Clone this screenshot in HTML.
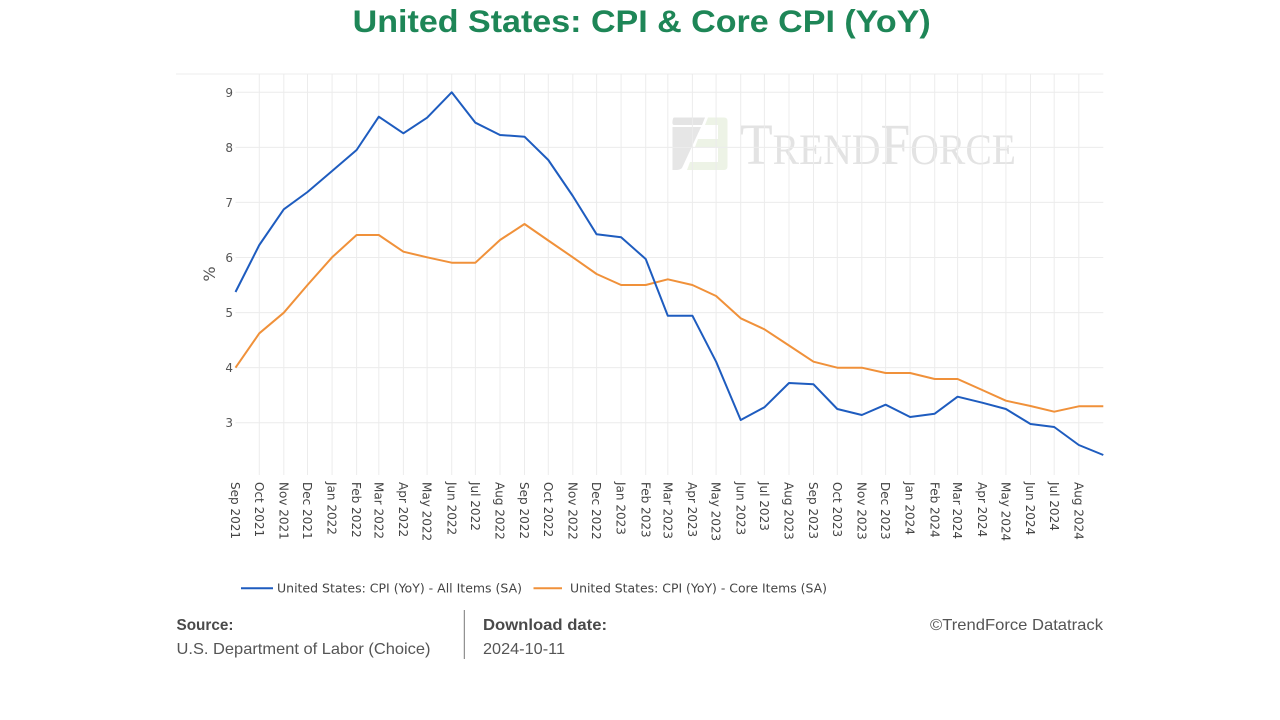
<!DOCTYPE html>
<html>
<head>
<meta charset="utf-8">
<style>
html,body{margin:0;padding:0;background:#fff;}
svg{display:block;}
</style>
</head>
<body>
<svg width="1280" height="720" viewBox="0 0 1280 720" xmlns="http://www.w3.org/2000/svg">
<rect x="0" y="0" width="1280" height="720" fill="#ffffff"/>

<!-- Title -->
<text x="352.7" y="32" font-family="'Liberation Sans', sans-serif" font-weight="bold" font-size="31.5" fill="#1e8657" textLength="578" lengthAdjust="spacingAndGlyphs">United States: CPI &amp; Core CPI (YoY)</text>

<!-- Watermark -->
<g opacity="1">
  <path d="M674 117.5 L705 117.5 L702 125 L674 125 Q672 125 672.5 121 Q673 117.5 674 117.5 Z" fill="#e4e4e4"/>
  <path d="M672.5 127 L701 127 L682 168 Q680 170 676 170 L672.5 170 Z" fill="#e6e6e6"/>
  <path d="M708 117.5 L724 117.5 Q727.5 117.5 727.5 121 L727.5 166 Q727.5 170 724 170 L687 170 L690 162 L718 162 L718 147 L695 147 L698 139 L718 139 L718 125 L705 125 Z" fill="#edf3e6"/>
  <text x="740" y="164" font-family="'Liberation Serif', serif" fill="#e3e3e3" textLength="276" lengthAdjust="spacingAndGlyphs"><tspan font-size="58">T</tspan><tspan font-size="43">REND</tspan><tspan font-size="58">F</tspan><tspan font-size="43">ORCE</tspan></text>
</g>

<!-- Grid -->
<g stroke="#ececec" stroke-width="1" fill="none">
  <line x1="176" y1="74" x2="1103.3" y2="74"/>
  <line x1="235.5" y1="92.3" x2="1103.3" y2="92.3"/>
  <line x1="235.5" y1="147.4" x2="1103.3" y2="147.4"/>
  <line x1="235.5" y1="202.4" x2="1103.3" y2="202.4"/>
  <line x1="235.5" y1="257.5" x2="1103.3" y2="257.5"/>
  <line x1="235.5" y1="312.6" x2="1103.3" y2="312.6"/>
  <line x1="235.5" y1="367.6" x2="1103.3" y2="367.6"/>
  <line x1="235.5" y1="422.7" x2="1103.3" y2="422.7"/>
  <path d="M259.3 74V475 M283.8 74V475 M307.5 74V475 M332.1 74V475 M356.6 74V475 M378.8 74V475 M403.4 74V475 M427.1 74V475 M451.7 74V475 M475.4 74V475 M500 74V475 M524.5 74V475 M548.3 74V475 M572.8 74V475 M596.6 74V475 M621.1 74V475 M645.7 74V475 M667.8 74V475 M692.4 74V475 M716.1 74V475 M740.7 74V475 M764.4 74V475 M789 74V475 M813.5 74V475 M837.3 74V475 M861.8 74V475 M885.6 74V475 M910.1 74V475 M934.7 74V475 M957.6 74V475 M982.2 74V475 M1005.9 74V475 M1030.5 74V475 M1054.2 74V475 M1078.8 74V475"/>
</g>

<!-- Y tick labels -->
<g font-family="'DejaVu Sans', 'Liberation Sans', sans-serif" font-size="12" fill="#555" text-anchor="end">
  <text x="233" y="96.8">9</text>
  <text x="233" y="151.9">8</text>
  <text x="233" y="206.9">7</text>
  <text x="233" y="262">6</text>
  <text x="233" y="317.1">5</text>
  <text x="233" y="372.1">4</text>
  <text x="233" y="427.2">3</text>
</g>
<text transform="translate(215,274) rotate(-90)" font-family="'DejaVu Sans', 'Liberation Sans', sans-serif" font-size="16" fill="#555" text-anchor="middle">%</text>

<!-- X tick labels -->
<g font-family="'DejaVu Sans', 'Liberation Sans', sans-serif" font-size="12" fill="#444">
  <text transform="translate(231.1,482) rotate(90)">Sep 2021</text>
  <text transform="translate(254.9,482) rotate(90)">Oct 2021</text>
  <text transform="translate(279.4,482) rotate(90)">Nov 2021</text>
  <text transform="translate(303.1,482) rotate(90)">Dec 2021</text>
  <text transform="translate(327.7,482) rotate(90)">Jan 2022</text>
  <text transform="translate(352.2,482) rotate(90)">Feb 2022</text>
  <text transform="translate(374.4,482) rotate(90)">Mar 2022</text>
  <text transform="translate(399,482) rotate(90)">Apr 2022</text>
  <text transform="translate(422.7,482) rotate(90)">May 2022</text>
  <text transform="translate(447.3,482) rotate(90)">Jun 2022</text>
  <text transform="translate(471,482) rotate(90)">Jul 2022</text>
  <text transform="translate(495.6,482) rotate(90)">Aug 2022</text>
  <text transform="translate(520.1,482) rotate(90)">Sep 2022</text>
  <text transform="translate(543.9,482) rotate(90)">Oct 2022</text>
  <text transform="translate(568.4,482) rotate(90)">Nov 2022</text>
  <text transform="translate(592.2,482) rotate(90)">Dec 2022</text>
  <text transform="translate(616.7,482) rotate(90)">Jan 2023</text>
  <text transform="translate(641.3,482) rotate(90)">Feb 2023</text>
  <text transform="translate(663.4,482) rotate(90)">Mar 2023</text>
  <text transform="translate(688,482) rotate(90)">Apr 2023</text>
  <text transform="translate(711.7,482) rotate(90)">May 2023</text>
  <text transform="translate(736.3,482) rotate(90)">Jun 2023</text>
  <text transform="translate(760,482) rotate(90)">Jul 2023</text>
  <text transform="translate(784.6,482) rotate(90)">Aug 2023</text>
  <text transform="translate(809.1,482) rotate(90)">Sep 2023</text>
  <text transform="translate(832.9,482) rotate(90)">Oct 2023</text>
  <text transform="translate(857.4,482) rotate(90)">Nov 2023</text>
  <text transform="translate(881.2,482) rotate(90)">Dec 2023</text>
  <text transform="translate(905.7,482) rotate(90)">Jan 2024</text>
  <text transform="translate(930.3,482) rotate(90)">Feb 2024</text>
  <text transform="translate(953.2,482) rotate(90)">Mar 2024</text>
  <text transform="translate(977.8,482) rotate(90)">Apr 2024</text>
  <text transform="translate(1001.5,482) rotate(90)">May 2024</text>
  <text transform="translate(1026.1,482) rotate(90)">Jun 2024</text>
  <text transform="translate(1049.8,482) rotate(90)">Jul 2024</text>
  <text transform="translate(1074.4,482) rotate(90)">Aug 2024</text>
</g>

<!-- Series -->
<polyline fill="none" stroke="#f0913a" stroke-width="2" stroke-linejoin="round" points="235.5,367.7 259.3,333.3 283.8,312.7 307.5,285 332.1,257.3 356.6,235 378.8,235 403.4,251.7 427.1,257.3 451.7,262.7 475.4,262.7 500,240 524.5,224 548.3,240.5 572.8,257.3 596.6,274 621.1,285 645.7,285 667.8,279.3 692.4,285 716.1,296 740.7,318.3 764.4,329.3 789,345.5 813.5,361.7 837.3,367.7 861.8,367.7 885.6,373 910.1,373 934.7,379 957.6,379 982.2,390 1005.9,400.7 1030.5,406 1054.2,411.7 1078.8,406.3 1103.3,406.3"/>
<polyline fill="none" stroke="#1e5cbf" stroke-width="2" stroke-linejoin="round" points="235.5,292 259.3,245 283.8,209.3 307.5,192 332.1,171 356.6,150 378.8,116.7 403.4,133.3 427.1,117.7 451.7,92.3 475.4,122.7 500,135 524.5,136.7 548.3,160 572.8,196 596.6,234.3 621.1,237.3 645.7,259 667.8,315.7 692.4,315.7 716.1,361.7 740.7,420 764.4,407.3 789,383 813.5,384.3 837.3,409 861.8,415 885.6,404.7 910.1,417 934.7,413.7 957.6,396.7 982.2,402.7 1005.9,409 1030.5,424 1054.2,427 1078.8,445 1103.3,455"/>

<!-- Legend -->
<line x1="241" y1="588.3" x2="273" y2="588.3" stroke="#1e5cbf" stroke-width="2"/>
<text x="277" y="592.5" font-family="'DejaVu Sans', 'Liberation Sans', sans-serif" font-size="12" fill="#444" textLength="245" lengthAdjust="spacingAndGlyphs">United States: CPI (YoY) - All Items (SA)</text>
<line x1="533.5" y1="588.3" x2="562" y2="588.3" stroke="#f0913a" stroke-width="2"/>
<text x="570" y="592.5" font-family="'DejaVu Sans', 'Liberation Sans', sans-serif" font-size="12" fill="#444" textLength="257" lengthAdjust="spacingAndGlyphs">United States: CPI (YoY) - Core Items (SA)</text>

<!-- Footer -->
<text x="176.5" y="630" font-family="'Liberation Sans', sans-serif" font-weight="bold" font-size="16" fill="#4a4a4a" textLength="57" lengthAdjust="spacingAndGlyphs">Source:</text>
<text x="176.5" y="654" font-family="'Liberation Sans', sans-serif" font-size="16" fill="#555" textLength="254" lengthAdjust="spacingAndGlyphs">U.S. Department of Labor (Choice)</text>
<line x1="464.3" y1="610" x2="464.3" y2="659" stroke="#777" stroke-width="1"/>
<text x="483" y="630" font-family="'Liberation Sans', sans-serif" font-weight="bold" font-size="16" fill="#4a4a4a" textLength="124" lengthAdjust="spacingAndGlyphs">Download date:</text>
<text x="483" y="654" font-family="'Liberation Sans', sans-serif" font-size="16" fill="#555" textLength="82" lengthAdjust="spacingAndGlyphs">2024-10-11</text>
<text x="930" y="630" font-family="'Liberation Sans', sans-serif" font-size="16" fill="#555" textLength="173" lengthAdjust="spacingAndGlyphs">©TrendForce Datatrack</text>
</svg>
</body>
</html>
